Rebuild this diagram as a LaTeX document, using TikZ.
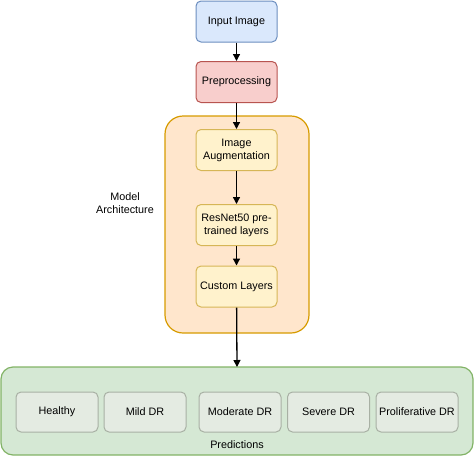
\documentclass[tikz,border=0pt]{standalone}
\usepackage{fontspec}
\setmainfont{Liberation Sans}
\usepackage{xcolor}
\usepackage{tikz}
\usetikzlibrary{arrows.meta}

\definecolor{blueFill}{HTML}{DAE8FC}
\definecolor{blueLine}{HTML}{6C8EBF}
\definecolor{redFill}{HTML}{F8CECC}
\definecolor{redLine}{HTML}{B85450}
\definecolor{orangeFill}{HTML}{FFE6CC}
\definecolor{orangeLine}{HTML}{D79B00}
\definecolor{yellowFill}{HTML}{FFF2CC}
\definecolor{yellowLine}{HTML}{D6B656}
\definecolor{greenFill}{HTML}{D5E8D4}
\definecolor{greenLine}{HTML}{82B366}
\definecolor{grayFill}{HTML}{E4EBE2}
\definecolor{grayLine}{HTML}{A8B0A4}

\tikzset{
  stepbox/.style={draw, rounded corners=5pt, line width=1pt, minimum width=81pt,
    minimum height=41pt, align=center, inner sep=1pt},
  classbox/.style={draw=grayLine, fill=grayFill, rounded corners=5pt, line width=1pt,
    minimum width=82pt, minimum height=40pt, align=center, inner sep=1pt},
  flow/.style={-{Triangle[length=7pt,width=7pt]}, line width=1.3pt},
}

\begin{document}
\begin{tikzpicture}[x=1pt, y=-1pt, every node/.style={font=\fontsize{10.8}{13}\selectfont}]
            \useasboundingbox (0,0) rectangle (474,456);
            % Containers
            \draw[orangeLine, fill=orangeFill, line width=1.2pt, rounded corners=18pt] (165,116) rectangle (309,333);
            \draw[greenLine, fill=greenFill, line width=1.2pt, rounded corners=12pt] (1,367) rectangle (473,455);
            \node (arch) at (125,203) [align=center] {Model\\Architecture};
            \node (pred) at (237,445) {Predictions};
            % Pipeline
            \node[stepbox, draw=blueLine, fill=blueFill] (input) at (236.5,21.5) {Input Image};
            \node[stepbox, draw=redLine, fill=redFill] (prep) at (236.5,82) {Preprocessing};
            \node[stepbox, draw=yellowLine, fill=yellowFill] (aug) at (236.5,150) {Image\\Augmentation};
            \node[stepbox, draw=yellowLine, fill=yellowFill] (resnet) at (236.5,225) {ResNet50 pre-\\trained layers};
            \node[stepbox, draw=yellowLine, fill=yellowFill] (custom) at (236.5,286.5) {Custom Layers};
            \coordinate (predtop) at (237,367);
            % Classes
            \node[classbox] (healthy) at (57,412) {Healthy};
            \node[classbox] (mild) at (145,412) {Mild DR};
            \node[classbox] (moderate) at (240,412) {Moderate DR};
            \node[classbox] (severe) at (328.5,412) {Severe DR};
            \node[classbox] (prolif) at (417,412) {Proliferative DR};
            % Arrows
            \draw[flow] (input) -- (prep);
            \draw[flow] (prep) -- (aug);
            \draw[flow] (aug) -- (resnet);
            \draw[flow] (resnet) -- (custom);
            \draw[flow] (custom) -- (predtop);
        \end{tikzpicture}
\end{document}
